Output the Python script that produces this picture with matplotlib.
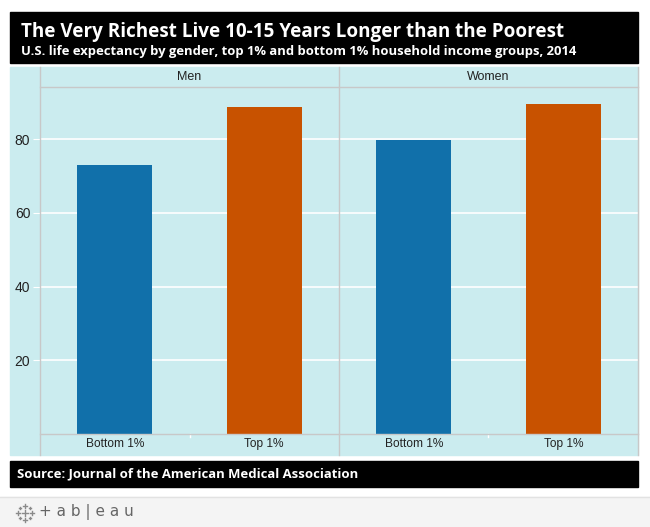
import matplotlib.pyplot as plt
from matplotlib.patches import Rectangle

# data
genders = ['Men', 'Women']
groups = ['Bottom 1%', 'Top 1%']
life_exp = {'Men': [73.1, 88.8], 'Women': [79.7, 89.6]}
yticks = [20, 40, 60, 80]

title = 'The Very Richest Live 10-15 Years Longer than the Poorest'
subtitle = 'U.S. life expectancy by gender, top 1% and bottom 1% household income groups, 2014'
source = 'Source: Journal of the American Medical Association'

colors = ['#1170aa', '#c85200']
bg = '#cbecef'
line_col = '#c8c8c8'

W, H = 650, 527
fig = plt.figure(figsize=(6.5, 5.27), dpi=100)


def fx(x):
    return x / W


def fy(y):
    return 1 - y / H


def box(x0, y0, x1, y1, color):
    fig.patches.append(Rectangle((fx(x0), fy(y1)), fx(x1 - x0), (y1 - y0) / H,
                                 transform=fig.transFigure, color=color, zorder=-5))


def hline(x0, x1, y, color=line_col, lw=1):
    fig.add_artist(plt.Line2D([fx(x0), fx(x1)], [fy(y), fy(y)], color=color, lw=lw,
                              transform=fig.transFigure, zorder=3))


def vline(x, y0, y1, color=line_col, lw=1):
    fig.add_artist(plt.Line2D([fx(x), fx(x)], [fy(y0), fy(y1)], color=color, lw=lw,
                              transform=fig.transFigure, zorder=3))


# title block
box(10, 12, 638, 63, 'black')
fig.text(fx(21), fy(32), title, color='white', fontsize=13.6, fontweight='bold',
         family='Open Sans', va='center')
fig.text(fx(21), fy(51), subtitle, color='white', fontsize=9.35, fontweight='bold',
         family='Open Sans', va='center')

# chart background
box(10, 67, 638, 455, bg)

# footer
box(10, 461, 638, 487, 'black')
fig.text(fx(17), fy(474), source, color='white', fontsize=9.45, fontweight='bold',
         family='Open Sans', va='center')

# tableau bar
box(0, 497, 650, 527, '#f4f4f4')
hline(0, 650, 497, color='#e2e2e2')
fig.text(fx(39), fy(512), '+ a b | e a u', color='#666666', fontsize=11,
         family='DejaVu Sans', va='center')
# little logo made of crosses
for cx, cy, s in [(25, 513, 3), (25, 506, 1.8), (25, 520, 1.8), (18, 513, 1.8), (32, 513, 1.8),
                  (20, 508, 1.2), (30, 508, 1.2), (20, 518, 1.2), (30, 518, 1.2)]:
    hline(cx - s, cx + s, cy, color='#8a8a8a')
    vline(cx, cy - s, cy + s, color='#8a8a8a')

# panels
x_left, x_right, y_top, y_bot = 40, 638, 87, 434
panel_w = (x_right - x_left) / len(genders)
ymax = 94.2

for i, g in enumerate(genders):
    x0 = x_left + i * panel_w
    ax = fig.add_axes([fx(x0), fy(y_bot), fx(panel_w), (y_bot - y_top) / H])
    ax.set_facecolor('none')
    ax.bar(range(len(groups)), life_exp[g], width=0.5, color=colors, zorder=2)
    ax.set_xlim(-0.5, len(groups) - 0.5)
    ax.set_ylim(0, ymax)
    ax.set_yticks(yticks)
    ax.yaxis.grid(True, color='white', lw=1.2, zorder=1)
    ax.set_axisbelow(True)
    for s in ax.spines.values():
        s.set_visible(False)
    ax.set_xticks([])
    if i == 0:
        ax.tick_params(axis='y', length=5, color='white', labelsize=10, pad=2)
        for lab in ax.get_yticklabels():
            lab.set_family('Liberation Sans')
            lab.set_color('#222222')
    else:
        ax.tick_params(axis='y', left=False, labelleft=False)
    # header and category labels
    fig.text(fx(x0 + panel_w / 2), fy(77), g, ha='center', va='center',
             fontsize=9, family='Liberation Sans', color='#222222')
    for j, grp in enumerate(groups):
        fig.text(fx(x0 + panel_w * (j + 0.5) / len(groups)), fy(444), grp,
                 ha='center', va='center', fontsize=8.6, family='Liberation Sans',
                 color='#222222')
    # small divider marks between categories
    vline(x0 + panel_w / 2, 434, 437, color='white')

# frame lines
hline(x_left, x_right, 87)
hline(x_left, x_right, 434)
vline(x_left, 67, 455)
vline(x_left + panel_w, 67, 455)
vline(x_right, 67, 455)

fig.savefig('out.png', dpi=100)
